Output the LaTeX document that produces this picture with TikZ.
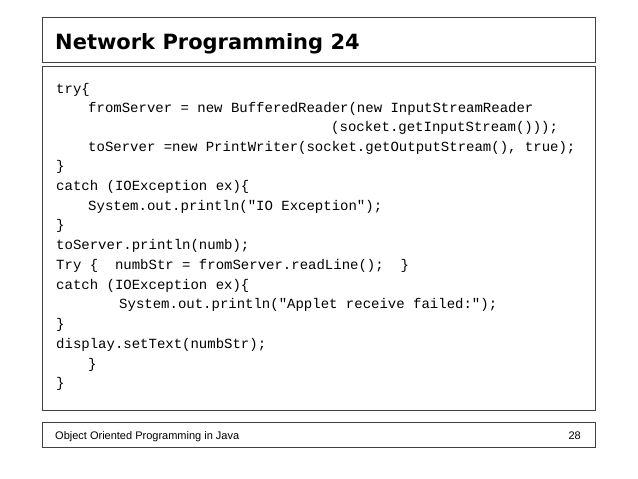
\documentclass[tikz,border=0pt]{standalone}
\usepackage{fontspec}
\setmonofont{Liberation Mono}
\setsansfont{Liberation Sans}
\newfontfamily\titlefont{DejaVu Sans}
\begin{document}
\begin{tikzpicture}[x=1pt, y=-1pt,
		panel/.style={draw=black!75, line width=0.8pt},
		codeline/.style={anchor=base west, inner sep=0pt, font=\ttfamily\fontsize{14}{16}\selectfont}]
		\useasboundingbox[fill=white] (0, 0) rectangle (638, 479);

		\draw[panel] (42, 17) rectangle (595, 62);
		\node[anchor=base west, inner sep=0pt, font=\titlefont\bfseries\fontsize{21}{24}\selectfont] at (55, 49) (title) {Network Programming 24};

		\draw[panel] (42, 66) rectangle (595, 410);
		\node[codeline] at (56, 93) (l1) {try\{};
		\node[codeline] at (88, 112) (l2) {fromServer = new BufferedReader(new InputStreamReader};
		\node[codeline] at (331, 131) (l3) {(socket.getInputStream()));};
		\node[codeline] at (88, 151) (l4) {toServer =new PrintWriter(socket.getOutputStream(), true);};
		\node[codeline] at (56, 170) (l5) {\}};
		\node[codeline] at (56, 190) (l6) {catch (IOException ex)\{};
		\node[codeline] at (88, 210) (l7) {System.out.println("IO Exception");};
		\node[codeline] at (56, 229) (l8) {\}};
		\node[codeline] at (56, 249) (l9) {toServer.println(numb);};
		\node[codeline] at (56, 269) (l10) {Try \{~~numbStr = fromServer.readLine();~~\}};
		\node[codeline] at (56, 289) (l11) {catch (IOException ex)\{};
		\node[codeline] at (119, 308) (l12) {System.out.println("Applet receive failed:");};
		\node[codeline] at (56, 328) (l13) {\}};
		\node[codeline] at (56, 348) (l14) {display.setText(numbStr);};
		\node[codeline] at (88, 368) (l15) {\}};
		\node[codeline] at (56, 387) (l16) {\}};

		\draw[panel] (42, 422) rectangle (595, 447);
		\node[anchor=base west, inner sep=0pt, font=\sffamily\fontsize{11}{13}\selectfont] at (55, 439) (footer) {Object Oriented Programming in Java};
		\node[anchor=base east, inner sep=0pt, font=\sffamily\fontsize{11}{13}\selectfont] at (581, 439) (page) {28};
	\end{tikzpicture}
\end{document}
